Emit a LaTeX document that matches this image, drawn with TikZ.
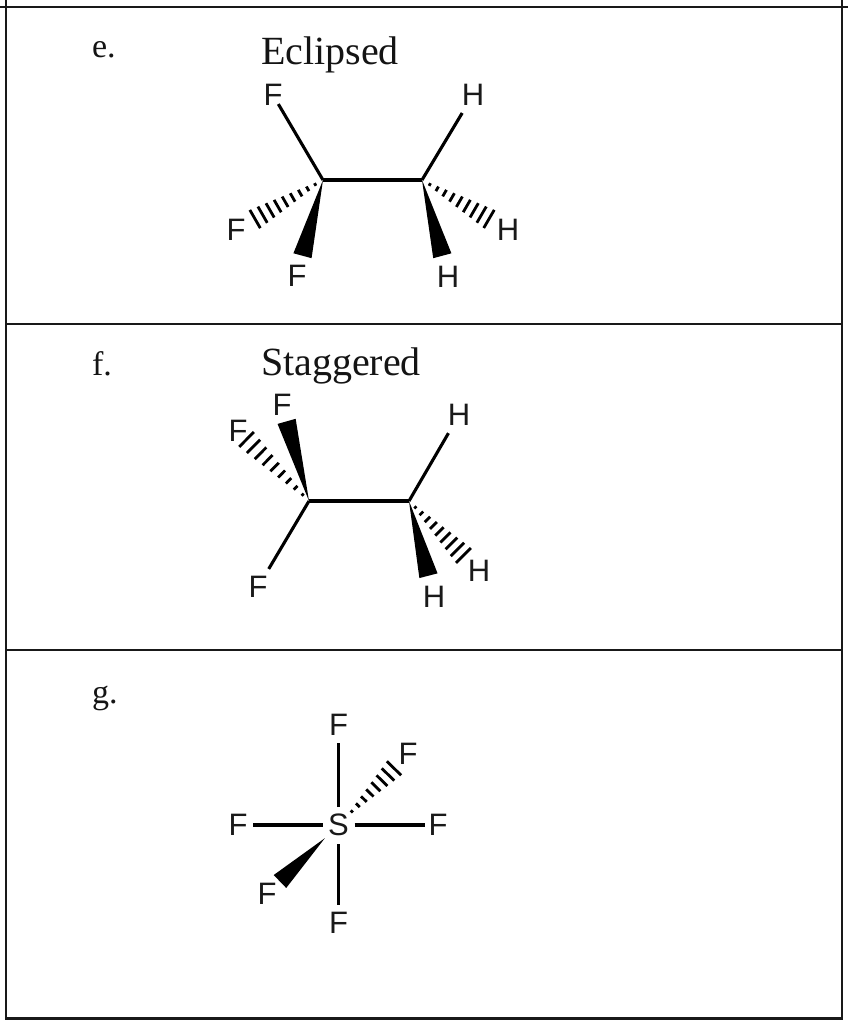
\documentclass[tikz,border=0pt]{standalone}
\usepackage{fontspec}
\setmainfont{Liberation Serif}
\newfontfamily\atomfont{Liberation Sans}
\usetikzlibrary{calc}
\tikzset{
  framerule/.style={line width=2.6pt,draw=black!90},
  atom/.style={inner sep=0pt,outer sep=0pt,font=\atomfont\fontsize{31}{36}\selectfont,text=black!90},
  caption/.style={inner sep=0pt,outer sep=0pt,anchor=base west,font=\fontsize{40}{46}\selectfont,text=black!92},
  rowmark/.style={inner sep=0pt,outer sep=0pt,anchor=base west,font=\fontsize{34}{40}\selectfont,text=black!92},
  bondline/.style={line width=3.1pt,draw=black},
  hashline/.style={line width=2.8pt,draw=black},
  wedgefill/.style={fill=black,draw=none}
}
% #1 from, #2 to, #3 gap at from, #4 gap at to
\newcommand{\plainbond}[4]{\draw[bondline,shorten <=#3,shorten >=#4] (#1.center) -- (#2.center);}
% #1 from, #2 to, #3 gap at from, #4 gap at to, #5 half width of the broad end
\newcommand{\wedgebond}[5]{%
  \coordinate (wa) at ($(#1.center)!#3!(#2.center)$);
  \coordinate (wb) at ($(#2.center)!#4!(#1.center)$);
  \fill[wedgefill] (wa) -- ($(wb)!#5!90:(wa)$) -- ($(wb)!#5!-90:(wa)$) -- cycle;}
% #1 from, #2 to, #3 gap at from, #4 gap at to, #5 last index, #6 first half width, #7 last half width
\newcommand{\hashbond}[7]{%
  \coordinate (ha) at ($(#1.center)!#3!(#2.center)$);
  \coordinate (hb) at ($(#2.center)!#4!(#1.center)$);
  \foreach \k in {0,...,#5}{%
    \pgfmathsetmacro{\tfrac}{\k/#5}
    \pgfmathsetmacro{\ww}{#6+(#7-#6)*\k/#5}
    \coordinate (hp) at ($(ha)!\tfrac!(hb)$);
    \coordinate (hu) at ($(ha)!\ww pt!90:(hb)$);
    \coordinate (hv) at ($(ha)!\ww pt!-90:(hb)$);
    \draw[hashline] ($(hp)+(hu)-(ha)$) -- ($(hp)+(hv)-(ha)$);
  }}
\begin{document}
\begin{tikzpicture}[x=1pt,y=-1pt]
\useasboundingbox (0,0) rectangle (848,1024);
\fill[white] (0,0) rectangle (848,1024);
% table frame
\draw[framerule] (6,0) -- (6,1018.5) -- (842,1018.5) -- (842,0);
\draw[framerule] (0,7) -- (848,7);
\draw[framerule] (6,324) -- (842,324);
\draw[framerule] (6,650) -- (842,650);
% row e
\node[rowmark] (le) at (92,58) {e.};
\node[caption] (te) at (261,65) {Eclipsed};
\coordinate (ea) at (323,180);
\coordinate (eb) at (422,180);
\node[atom] (ef1) at (273,95) {F};
\node[atom] (ef2) at (236,230) {F};
\node[atom] (ef3) at (297,276) {F};
\node[atom] (eh1) at (473,95) {H};
\node[atom] (eh2) at (508,230) {H};
\node[atom] (eh3) at (448,277) {H};
\plainbond{ea}{eb}{0pt}{0pt}
\plainbond{ea}{ef1}{0pt}{10.5pt}
\plainbond{eb}{eh1}{0pt}{21pt}
\wedgebond{ea}{ef3}{0pt}{21pt}{9.4pt}
\wedgebond{eb}{eh3}{0pt}{22pt}{9.4pt}
\hashbond{ea}{ef2}{9pt}{22pt}{8}{1.5}{10.5}
\hashbond{eb}{eh2}{9pt}{22pt}{8}{1.5}{10.5}
% row f
\node[rowmark] (lf) at (92,375) {f.};
\node[caption] (tf) at (261,375) {Staggered};
\coordinate (fa) at (309,501);
\coordinate (fb) at (409,501);
\node[atom] (ff1) at (282,405) {F};
\node[atom] (ff2) at (238,431) {F};
\node[atom] (ff3) at (258,587) {F};
\node[atom] (fh1) at (459,415) {H};
\node[atom] (fh2) at (479,571) {H};
\node[atom] (fh3) at (434,597) {H};
\plainbond{fa}{fb}{0pt}{0pt}
\plainbond{fa}{ff3}{0pt}{21pt}
\plainbond{fb}{fh1}{0pt}{21pt}
\wedgebond{fa}{ff1}{0pt}{17pt}{9.4pt}
\wedgebond{fb}{fh3}{0pt}{22pt}{9.4pt}
\hashbond{fa}{ff2}{9pt}{12pt}{8}{1.5}{10.5}
\hashbond{fb}{fh2}{9pt}{22pt}{8}{1.5}{10.5}
% row g
\node[rowmark] (lg) at (92,703) {g.};
\node[atom] (s) at (338.5,825) {S};
\node[atom] (g1) at (338.5,725) {F};
\node[atom] (g2) at (408,754) {F};
\node[atom] (g3) at (238,825) {F};
\node[atom] (g4) at (438,825) {F};
\node[atom] (g5) at (267,894) {F};
\node[atom] (g6) at (338.5,923) {F};
\plainbond{s}{g1}{18pt}{18pt}
\plainbond{s}{g6}{19pt}{18pt}
\plainbond{s}{g3}{16pt}{15pt}
\plainbond{s}{g4}{16pt}{13pt}
\wedgebond{s}{g5}{19pt}{18pt}{9pt}
\hashbond{s}{g2}{19pt}{20pt}{7}{1.5}{10}
\end{tikzpicture}
\end{document}
